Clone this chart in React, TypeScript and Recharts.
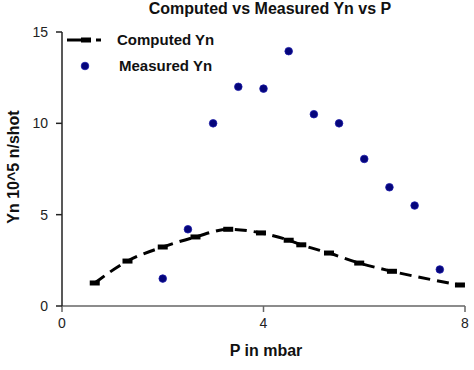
import { ComposedChart, Line, Scatter, XAxis, YAxis } from "recharts";

const P_COMPUTED = [0.65, 1.3, 2.0, 2.65, 3.3, 3.95, 4.5, 4.75, 5.3, 5.9, 6.55, 7.9];
const YN_COMPUTED = [1.26, 2.46, 3.23, 3.78, 4.2, 4.0, 3.6, 3.35, 2.9, 2.35, 1.9, 1.15];
const P_MEASURED = [2, 2.5, 3, 3.5, 4, 4.5, 5, 5.5, 6, 6.5, 7, 7.5];
const YN_MEASURED = [1.5, 4.2, 10, 12, 11.9, 13.95, 10.5, 10, 8.05, 6.5, 5.5, 2.0];
const X_TICKS = [0, 4, 8];
const Y_TICKS = [0, 5, 10, 15];

const computed = P_COMPUTED.map((p, i) => ({ p, yn: YN_COMPUTED[i] }));
const measured = P_MEASURED.map((p, i) => ({ p, yn: YN_MEASURED[i] }));

const FONT = "'Liberation Sans', Arial, sans-serif";
const NAVY = "#05057a";

function RectDot(props: any) {
  const { cx, cy } = props;
  if (cx == null || cy == null) return null;
  return <rect x={cx - 5} y={cy - 2.5} width={10} height={5} fill="#000" />;
}

function RoundDot(props: any) {
  const { cx, cy } = props;
  if (cx == null || cy == null) return null;
  return <circle cx={cx} cy={cy} r={3.8} fill={NAVY} stroke="#1a1aa8" strokeWidth={0.8} />;
}

const bold: React.CSSProperties = {
  position: "absolute",
  fontWeight: "bold",
  fontSize: 16,
  color: "#111",
  whiteSpace: "nowrap",
};

export default function App() {
  return (
    <div
      style={{
        position: "absolute",
        left: 0,
        top: 0,
        width: 474,
        height: 370,
        background: "#fff",
        fontFamily: FONT,
        overflow: "hidden",
      }}
    >
      <ComposedChart
        width={474}
        height={370}
        margin={{ top: 32, right: 9, bottom: 34, left: 0 }}
        style={{ fontFamily: FONT }}
      >
        <XAxis
          dataKey="p"
          type="number"
          domain={[0, 8]}
          ticks={X_TICKS}
          height={30}
          stroke="#666"
          strokeWidth={1.5}
          tickSize={6}
          tickMargin={6}
          tick={{ fontSize: 14, fill: "#222" }}
        />
        <YAxis
          dataKey="yn"
          type="number"
          domain={[0, 15]}
          ticks={Y_TICKS}
          width={62}
          stroke="#222"
          strokeWidth={1.5}
          tickSize={6}
          tickMargin={8}
          tick={{ fontSize: 14, fill: "#222" }}
        />
        <Line
          data={computed}
          dataKey="yn"
          type="monotone"
          stroke="#000"
          strokeWidth={3}
          strokeDasharray="12 7"
          dot={<RectDot />}
          activeDot={false}
          isAnimationActive={false}
        />
        <Scatter
          data={measured}
          dataKey="yn"
          shape={<RoundDot />}
          isAnimationActive={false}
        />
      </ComposedChart>

      <div style={{ ...bold, left: 130, width: 280, top: 0, textAlign: "center" }}>
        Computed vs Measured Yn vs P
      </div>

      <svg style={{ position: "absolute", left: 64, top: 32 }} width={40} height={45}>
        <line x1={3} y1={8} x2={18} y2={8} stroke="#000" strokeWidth={3} />
        <rect x={17} y={5.5} width={10} height={5} fill="#000" />
        <line x1={32} y1={8} x2={37} y2={8} stroke="#000" strokeWidth={3} />
        <circle cx={21} cy={34} r={3.8} fill={NAVY} stroke="#1a1aa8" strokeWidth={0.8} />
      </svg>
      <div style={{ ...bold, fontSize: 15, left: 117, top: 31 }}>Computed Yn</div>
      <div style={{ ...bold, fontSize: 15, left: 119, top: 57 }}>Measured Yn</div>

      <div style={{ ...bold, left: 196, width: 140, top: 342, textAlign: "center" }}>
        P in mbar
      </div>
      <div
        style={{
          ...bold,
          left: 14,
          top: 167,
          transform: "translate(-50%, -50%) rotate(-90deg)",
        }}
      >
        Yn 10^5 n/shot
      </div>
    </div>
  );
}
